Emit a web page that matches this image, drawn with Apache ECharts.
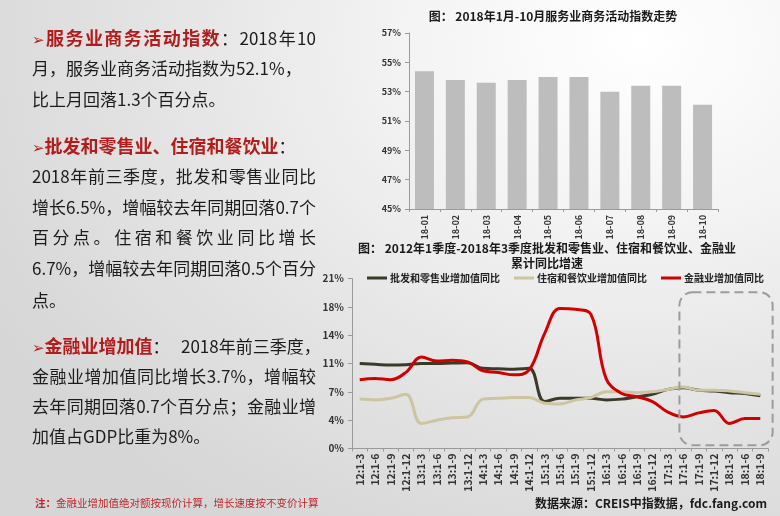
<!DOCTYPE html>
<html><head><meta charset="utf-8">
<script src="https://cdn.jsdelivr.net/npm/echarts@6/dist/echarts.min.js"></script>
<style>
html,body{margin:0;padding:0;}
body{width:780px;height:516px;overflow:hidden;position:relative;
background:radial-gradient(ellipse 95% 110% at 82% 8%, #ffffff 0%, #f4f4f4 30%, #e4e4e4 65%, #d6d6d6 100%);
font-family:"Noto Sans CJK SC","DejaVu Sans",sans-serif;}
#chart{position:absolute;left:0;top:0;width:780px;height:516px;}
.ln{position:absolute;left:32px;width:284px;height:22px;line-height:22px;font-size:17px;color:#1c1c1c;white-space:nowrap;}
.j{text-align:justify;text-align-last:justify;}
.h{color:#b41c1c;font-weight:bold;font-size:18px;}
.ar{font-family:"DejaVu Sans",sans-serif;font-size:15px;color:#b41c1c;}
.note{position:absolute;left:35px;top:495px;font-size:10.5px;color:#c0262c;white-space:nowrap;}
</style></head>
<body>
<div id="chart"></div>
<div class="ln j" style="top:26px;"><span class="ar">➢</span><span class="h">服务业商务活动指数</span>：2018年10</div>
<div class="ln" style="top:57px;">月，服务业商务活动指数为52.1%，</div>
<div class="ln" style="top:88px;">比上月回落1.3个百分点。</div>

<div class="ln" style="top:134px;"><span class="ar">➢</span><span class="h">批发和零售业、住宿和餐饮业</span>：</div>
<div class="ln j" style="top:165px;">2018年前三季度，批发和零售业同比</div>
<div class="ln j" style="top:196px;">增长6.5%，增幅较去年同期回落0.7个</div>
<div class="ln j" style="top:226px;">百分点。住宿和餐饮业同比增长</div>
<div class="ln j" style="top:257px;">6.7%，增幅较去年同期回落0.5个百分</div>
<div class="ln" style="top:289px;">点。</div>

<div class="ln" style="top:334px;width:274px;"><span class="ar">➢</span><span class="h">金融业增加值</span>：&nbsp;&nbsp;&nbsp;2018年前三季度，</div>
<div class="ln j" style="top:365px;">金融业增加值同比增长3.7%，增幅较</div>
<div class="ln j" style="top:395px;">去年同期回落0.7个百分点；金融业增</div>
<div class="ln" style="top:425px;">加值占GDP比重为8%。</div>
<div class="note"><b>注：</b>金融业增加值绝对额按现价计算，增长速度按不变价计算</div>

<script>
// ---- data ----
var barCategories = ['18-01','18-02','18-03','18-04','18-05','18-06','18-07','18-08','18-09','18-10'];
var barValues = [54.4, 53.8, 53.6, 53.8, 54.0, 54.0, 53.0, 53.4, 53.4, 52.1];

var lineCategories = ['12:1-3','12:1-6','12:1-9','12:1-12','13:1-3','13:1-6','13:1-9','13:1-12',
  '14:1-3','14:1-6','14:1-9','14:1-12','15:1-3','15:1-6','15:1-9','15:1-12',
  '16:1-3','16:1-6','16:1-9','16:1-12','17:1-3','17:1-6','17:1-9','17:1-12',
  '18:1-3','18:1-6','18:1-9'];
var wholesaleRetail = [10.5,10.4,10.3,10.35,10.5,10.5,10.55,10.6,9.9,9.85,9.8,9.9,5.8,6.2,6.2,6.2,6.0,6.1,6.4,6.7,7.3,7.5,7.2,7.1,6.9,6.8,6.5];
var hotelCatering = [6.1,6.0,6.2,6.7,3.1,3.5,3.8,3.9,6.1,6.2,6.3,6.3,5.6,5.5,6.0,6.3,7.0,7.0,6.9,7.0,7.3,7.6,7.2,7.2,7.1,6.9,6.7];
var finance = [8.5,8.65,8.5,9.4,11.3,10.8,10.9,10.7,9.6,9.4,9.1,9.7,14.2,17.3,17.2,16.6,8.6,6.8,6.4,5.8,4.5,3.9,4.4,4.7,3.1,3.7,3.7];
var seriesNames = ['批发和零售业增加值同比','住宿和餐饮业增加值同比','金融业增加值同比'];

var barYTicks = ['45%','47%','49%','51%','53%','55%','57%'];
var lineYTicks = ['0%','4%','7%','11%','14%','18%','21%'];

var barTitle = '图： 2018年1月-10月服务业商务活动指数走势';
var lineTitle1 = '图： 2012年1季度-2018年3季度批发和零售业、住宿和餐饮业、金融业';
var lineTitle2 = '累计同比增速';
var sourceText = '数据来源：CREIS中指数据，fdc.fang.com';
// highlighted region (category index range, value range)
var boxRange = {fromCat: 20.75, toCat: 26.8, fromVal: 0.4, toVal: 19.3};

// ---- chart ----
var chart = echarts.init(document.getElementById('chart'), null, {renderer:'canvas'});
var FF = '"Noto Sans CJK SC","DejaVu Sans",sans-serif';
var axisCol = '#9a9a9a';
var lblCol = '#333';

var option = {
  backgroundColor: 'transparent',
  animation: false,
  textStyle: {fontFamily: FF},
  legend: {
    left: 367, top: 273, padding: 0, width: 413, itemWidth: 20, itemHeight: 3, itemGap: 14, icon: 'rect',
    textStyle: {fontSize: 10, fontWeight: 'bold', color: '#222', fontFamily: FF, padding: [0,0,0,-2]},
    data: seriesNames
  },
  grid: [
    {left: 409, top: 33, width: 309, height: 176, containLabel: false},
    {left: 352, top: 278.5, width: 416, height: 170, containLabel: false}
  ],
  xAxis: [
    {gridIndex: 0, type: 'category', data: barCategories,
     axisLine: {lineStyle: {color: axisCol}}, axisTick: {show: true, length: 3, lineStyle:{color:axisCol}},
     axisLabel: {rotate: 90, fontSize: 9, fontWeight: 'bold', color: lblCol, margin: 6, fontFamily: FF}},
    {gridIndex: 1, type: 'category', data: lineCategories, boundaryGap: true,
     axisLine: {lineStyle: {color: axisCol}}, axisTick: {show: true, length: 3, lineStyle:{color:axisCol}},
     axisLabel: {rotate: 90, fontSize: 10.5, fontWeight: 'bold', color: lblCol, margin: 5, interval: 0, fontFamily: FF}}
  ],
  yAxis: [
    {gridIndex: 0, type: 'value', min: 45, max: 57, interval: 2,
     axisLine: {show: true, lineStyle: {color: axisCol}}, axisTick: {show: true, length: 4, lineStyle:{color:axisCol}},
     splitLine: {show: false},
     axisLabel: {fontSize: 9, fontWeight: 'bold', color: lblCol, margin: 8, fontFamily: FF,
       formatter: function(v){ return barYTicks[Math.round((v-45)/2)]; }}},
    {gridIndex: 1, type: 'value', min: 0, max: 21, interval: 3.5,
     axisLine: {show: true, lineStyle: {color: axisCol}}, axisTick: {show: true, length: 4, lineStyle:{color:axisCol}},
     splitLine: {show: false},
     axisLabel: {fontSize: 10, fontWeight: 'bold', color: lblCol, margin: 8, fontFamily: FF,
       formatter: function(v){ return lineYTicks[Math.round(v/3.5)]; }}}
  ],
  series: [
    {type: 'bar', xAxisIndex: 0, yAxisIndex: 0, data: barValues, barWidth: 19,
     itemStyle: {color: '#bdbdbd'}},
    {name: seriesNames[0], type: 'line', xAxisIndex: 1, yAxisIndex: 1, data: wholesaleRetail,
     smooth: 0.4, showSymbol: false, symbol: 'none', lineStyle: {width: 3, color: '#3b3a2a'}, itemStyle: {color: '#3b3a2a'}},
    {name: seriesNames[1], type: 'line', xAxisIndex: 1, yAxisIndex: 1, data: hotelCatering,
     smooth: 0.4, showSymbol: false, symbol: 'none', lineStyle: {width: 3, color: '#cdc4a0'}, itemStyle: {color: '#cdc4a0'}},
    {name: seriesNames[2], type: 'line', xAxisIndex: 1, yAxisIndex: 1, data: finance,
     smooth: 0.4, showSymbol: false, symbol: 'none', lineStyle: {width: 3, color: '#d00000'}, itemStyle: {color: '#d00000'}}
  ]
};
chart.setOption(option);

function px(cat, val){ return chart.convertToPixel({xAxisIndex: 1, yAxisIndex: 1}, [cat, val]); }
var p20 = px(20, 0), p26 = px(26, 0);
var band = (p26[0] - p20[0]) / 6;
var bx0 = p20[0] + (boxRange.fromCat - 20) * band;
var bx1 = p26[0] + (boxRange.toCat - 26) * band;
var by0 = px(0, boxRange.toVal)[1];
var by1 = px(0, boxRange.fromVal)[1];

chart.setOption({
  graphic: [
    {type: 'text', x: 553, y: 16, style: {text: barTitle, fontSize: 12, fontWeight: 'bold', fill: '#1a1a1a', textAlign: 'center', textVerticalAlign: 'middle', fontFamily: FF}},
    {type: 'text', x: 547, y: 248, style: {text: lineTitle1, fontSize: 12, fontWeight: 'bold', fill: '#1a1a1a', textAlign: 'center', textVerticalAlign: 'middle', fontFamily: FF}},
    {type: 'text', x: 547, y: 263, style: {text: lineTitle2, fontSize: 12, fontWeight: 'bold', fill: '#1a1a1a', textAlign: 'center', textVerticalAlign: 'middle', fontFamily: FF}},
    {type: 'text', x: 767, y: 503, style: {text: sourceText, fontSize: 12, fontWeight: 'bold', fill: '#1a1a1a', textAlign: 'right', textVerticalAlign: 'middle', fontFamily: FF}},
    {type: 'rect', shape: {x: bx0, y: by0, width: bx1 - bx0, height: by1 - by0, r: 13},
     style: {fill: 'none', stroke: '#9c9c9c', lineWidth: 2, lineDash: [9, 5]}, z: 10}
  ]
});
</script>
</body></html>
